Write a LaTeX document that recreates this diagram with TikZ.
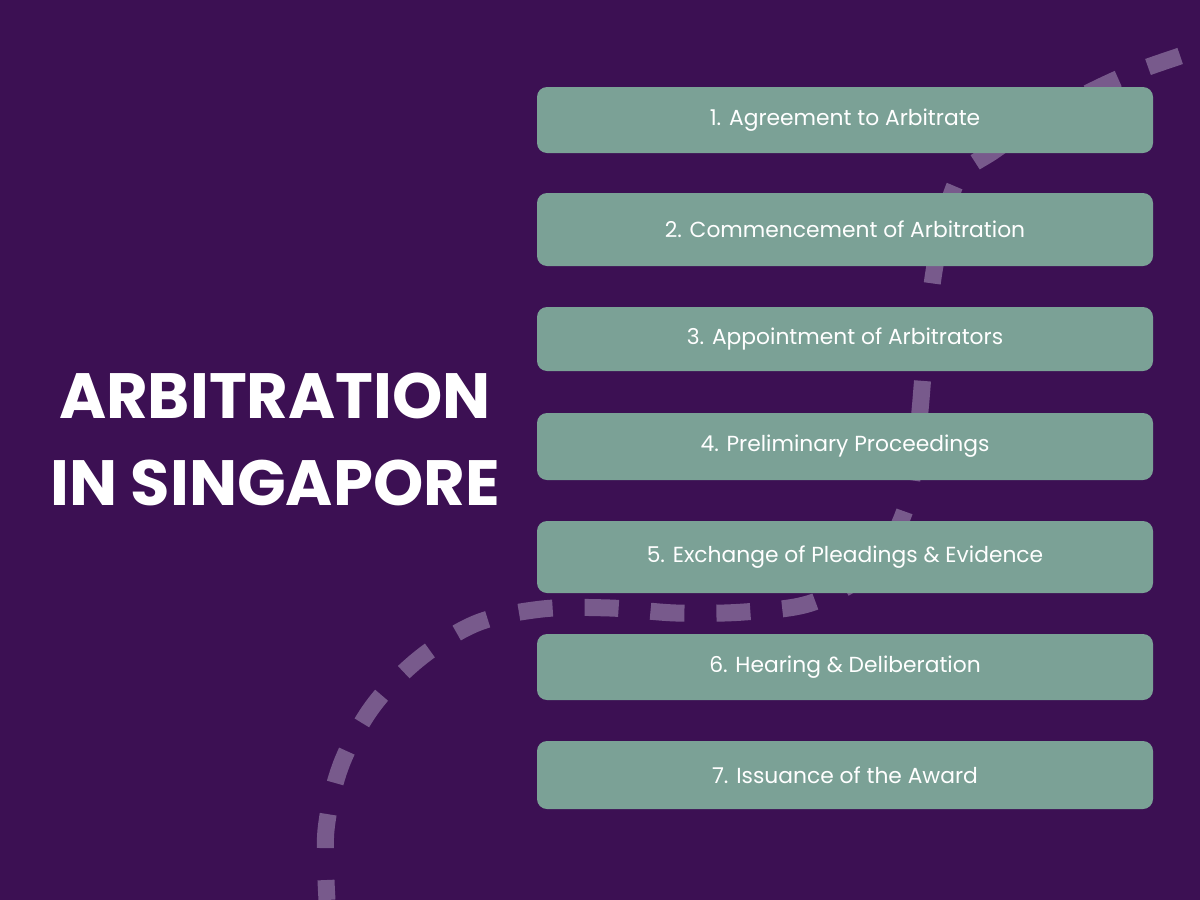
\documentclass[tikz,border=0pt]{standalone}
\usepackage{fontspec}
\setmainfont{Poppins}
\definecolor{bgpurple}{HTML}{3C1053}
\definecolor{boxteal}{HTML}{7BA196}
\definecolor{dashpurple}{HTML}{785A8C}
\tikzset{
  stepbox/.style={rectangle, rounded corners=10pt, fill=boxteal, minimum width=616pt,
    text=white, font=\fontsize{21.8}{26}\selectfont, inner sep=0pt},
  titletext/.style={text=white, font=\fontsize{64}{74}\selectfont\bfseries, inner sep=0pt, anchor=base},
  trail/.style={draw=dashpurple, line width=17pt, dash pattern=on 34pt off 32pt, dash phase=14pt}
}
\begin{document}
\begin{tikzpicture}[x=1pt,y=-1pt]
\useasboundingbox (0,0) rectangle (1200,900);
\fill[bgpurple] (0,0) rectangle (1200,900);
\draw[trail] plot[smooth, tension=0.55] coordinates {(327,900) (326,830) (341,765) (373,706) (420,658) (477,623) (542,609) (610,608) (676,613) (744,612) (811,603) (870,570) (905,510) (918,430) (926,340) (936,260) (957,181) (995,150) (1060,108) (1122,77) (1183,55) (1215,45)};
\node[titletext] (t1) at (275,418) {ARBITRATION};
\node[titletext] (t2) at (275,505) {IN SINGAPORE};
\node[stepbox, minimum height=66pt] (s1) at (845,120) {1. Agreement to Arbitrate};
\node[stepbox, minimum height=73pt] (s2) at (845,229.5) {2. Commencement of Arbitration};
\node[stepbox, minimum height=64pt] (s3) at (845,339) {3. Appointment of Arbitrators};
\node[stepbox, minimum height=67pt] (s4) at (845,446.5) {4. Preliminary Proceedings};
\node[stepbox, minimum height=72pt] (s5) at (845,557) {5. Exchange of Pleadings \& Evidence};
\node[stepbox, minimum height=66pt] (s6) at (845,667) {6. Hearing \& Deliberation};
\node[stepbox, minimum height=68pt] (s7) at (845,775) {7. Issuance of the Award};
\end{tikzpicture}
\end{document}
